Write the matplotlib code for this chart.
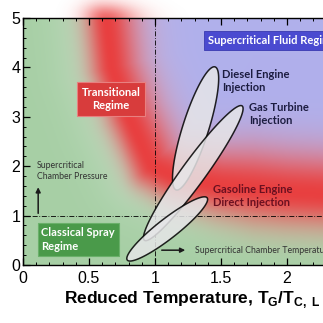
import numpy as np
import matplotlib
matplotlib.use("Agg")
import matplotlib.pyplot as plt
from matplotlib.patches import Polygon
from matplotlib.ticker import MultipleLocator

plt.rcParams['font.family'] = ['Liberation Sans', 'DejaVu Sans']
plt.rcParams['mathtext.fontset'] = 'custom'
plt.rcParams['mathtext.rm'] = 'Liberation Sans:bold'

# centre line of the red transitional band
band_x = [0.60, 0.61, 0.63, 0.67, 0.80, 0.97, 1.17, 1.50, 2.00, 2.50, 3.00]
band_y = [6.50, 5.40, 5.00, 4.00, 3.00, 2.00, 1.76, 1.60, 1.47, 1.40, 1.36]

# injection regimes: ellipse end points (x1, y1, x2, y2) and label
regimes = ['Diesel Engine\nInjection', 'Gas Turbine\nInjection',
           'Gasoline Engine\nDirect Injection']
regime_tips = [(1.16, 1.52, 1.455, 4.01),
               (0.92, 0.50, 1.66, 3.22),
               (0.79, 0.10, 1.395, 1.36)]
regime_label_x = [1.51, 1.71, 1.44]
regime_label_y = [3.72, 3.06, 1.40]

xticks = [0, 0.5, 1, 1.5, 2]
yticks = [0, 1, 2, 3, 4, 5]

green = np.array([167, 207, 165]) / 255
blue = np.array([176, 176, 236]) / 255
red = np.array([234, 56, 56]) / 255

fig = plt.figure(figsize=(3.23, 3.23), dpi=100)
ax = fig.add_axes([23 / 323, 58 / 323, 2.5 * 132 / 323, 247 / 323])
ax.set_xlim(0, 2.5)
ax.set_ylim(0, 5)

# --- background regimes ---
sx, sy = 132.0, 49.4  # pixels per data unit
ny, nx = 300, 330
gx = np.linspace(0, 2.5, nx)
gy = np.linspace(0, 5.5, ny)
X, Y = np.meshgrid(gx, gy)
PX, PY = X * sx, Y * sy
bx = np.array(band_x) * sx
by = np.array(band_y) * sy
dmin = np.full(X.shape, 1e9)
sgn = np.zeros(X.shape)
for i in range(len(bx) - 1):
    ax0, ay0, ax1, ay1 = bx[i], by[i], bx[i + 1], by[i + 1]
    dx, dy = ax1 - ax0, ay1 - ay0
    t = ((PX - ax0) * dx + (PY - ay0) * dy) / (dx * dx + dy * dy)
    t = np.clip(t, 0, 1)
    qx, qy = ax0 + t * dx, ay0 + t * dy
    d = np.hypot(PX - qx, PY - qy)
    cr = dx * (PY - qy) - dy * (PX - qx)
    m = d < dmin
    dmin[m] = d[m]
    sgn[m] = np.sign(cr[m])
s = dmin * sgn
tb = 1 / (1 + np.exp(-s / 12))
base = green[None, None, :] * (1 - tb[..., None]) + blue[None, None, :] * tb[..., None]
halo = 0.35 * np.exp(-(dmin / 45) ** 2)
base = base * (1 - halo[..., None]) + halo[..., None]
grow = np.clip(X - 0.75, 0, 1.0)
sig = np.where(s > 0, 30.0, 22.0) + 12 * grow
w = 0.95 * np.exp(-(dmin / sig) ** 2)
rgb = base * (1 - w[..., None]) + red[None, None, :] * w[..., None]
alpha = np.ones(X.shape)
above = Y > 5
fade = np.exp(-((Y - 5) / 0.3) ** 2)
rgb[above] = red
alpha[above] = (w * fade)[above] * 0.8
img = np.dstack([rgb, alpha])
im = ax.imshow(img, extent=[0, 2.5, 0, 5.5], origin='lower', aspect='auto',
               interpolation='bilinear', zorder=0)
im.set_clip_on(False)
ax.set_ylim(0, 5)

# critical lines
ax.plot([1, 1], [0, 5], color='black', lw=0.6, ls=(0, (6, 2, 1, 2)), zorder=1)
ax.plot([0, 2.5], [1, 1], color='black', lw=0.6, ls=(0, (6, 2, 1, 2)), zorder=1)

# --- ellipses ---
widths_px = [26, 24, 20]
fig.canvas.draw()
inv = ax.transData.inverted()
for (x1, y1, x2, y2), wpx in zip(regime_tips, widths_px):
    p1 = ax.transData.transform((x1, y1))
    p2 = ax.transData.transform((x2, y2))
    c = (p1 + p2) / 2
    L = np.hypot(*(p2 - p1)) / 2
    ang = np.arctan2(p2[1] - p1[1], p2[0] - p1[0])
    th = np.linspace(0, 2 * np.pi, 200)
    ex = L * np.cos(th)
    ey = wpx / 2 * np.sin(th)
    pts = np.column_stack([c[0] + ex * np.cos(ang) - ey * np.sin(ang),
                           c[1] + ex * np.sin(ang) + ey * np.cos(ang)])
    ax.add_patch(Polygon(inv.transform(pts), closed=True, facecolor=(0.9, 0.9, 0.91),
                         alpha=0.85, edgecolor='black', lw=1.1, zorder=3))

fs = 8.0
lab_colors = ['#1c1c40', '#1c1c40', '#6a1020']
for txt, lx, ly, col in zip(regimes, regime_label_x, regime_label_y, lab_colors):
    ax.text(lx, ly, txt, family=['Lato', 'DejaVu Sans'], fontweight='bold',
            fontsize=fs, color=col, ha='left', va='center', linespacing=1.2, zorder=4)

# regime boxes
ax.text(1.40, 4.55, 'Supercritical Fluid Regime', family=['Lato', 'DejaVu Sans'],
        fontweight='bold', fontsize=fs, color='white', ha='left', va='center', zorder=4,
        bbox=dict(boxstyle='square,pad=0.35', facecolor='#4a4ad0', edgecolor='#3a3ab0', lw=0.6))
ax.text(0.667, 3.36, 'Transitional\nRegime', family=['Lato', 'DejaVu Sans'],
        fontweight='bold', fontsize=fs, color='white', ha='center', va='center',
        linespacing=1.3, zorder=4,
        bbox=dict(boxstyle='square,pad=0.4', facecolor='#d83c3c', edgecolor='#e88080', lw=0.8))
ax.text(0.14, 0.51, 'Classical Spray\nRegime', family=['Lato', 'DejaVu Sans'],
        fontweight='bold', fontsize=fs, color='white', ha='left', va='center',
        linespacing=1.35, zorder=4,
        bbox=dict(boxstyle='square,pad=0.35', facecolor='#4a9a4a', edgecolor='#6ab06a', lw=0.8))

# supercritical arrows
ax.annotate('', xy=(0.115, 1.63), xytext=(0.115, 0.99),
            arrowprops=dict(arrowstyle='-|>', color='#1a1a1a', lw=1.1, mutation_scale=7), zorder=4)
ax.text(0.105, 1.90, 'Supercritical\nChamber Pressure', family=['Lato', 'DejaVu Sans'],
        fontsize=6.3, color='#333333', ha='left', va='center', linespacing=1.3, zorder=4)
ax.annotate('', xy=(1.25, 0.30), xytext=(1.03, 0.30),
            arrowprops=dict(arrowstyle='-|>', color='#1a1a1a', lw=1.1, mutation_scale=7), zorder=4)
ax.text(1.30, 0.30, 'Supercritical Chamber Temperature', family=['Lato', 'DejaVu Sans'],
        fontsize=6.3, color='#333333', ha='left', va='center', zorder=4)

# axes styling
ax.set_xticks(xticks)
ax.set_xticklabels(['0', '0.5', '1', '1.5', '2'])
ax.set_yticks(yticks)
ax.xaxis.set_minor_locator(MultipleLocator(0.1))
ax.yaxis.set_minor_locator(MultipleLocator(0.2))
ax.tick_params(which='both', direction='in', top=True, right=False, labelsize=11.5)
ax.tick_params(which='major', length=5, width=0.9)
ax.tick_params(which='minor', length=2.5, width=0.7)
ax.tick_params(axis='x', pad=4)
ax.tick_params(axis='y', pad=2)
for sp in ['left', 'bottom', 'top']:
    ax.spines[sp].set_linewidth(1.0)
ax.spines['right'].set_visible(False)

fig.text(192 / 323, 1 - 300 / 323, r'Reduced Temperature, T$_\mathrm{G}$/T$_\mathrm{C,\ L}$',
         fontsize=12.5, fontweight='bold', ha='center', va='center')

fig.savefig('out.png', dpi=100)
